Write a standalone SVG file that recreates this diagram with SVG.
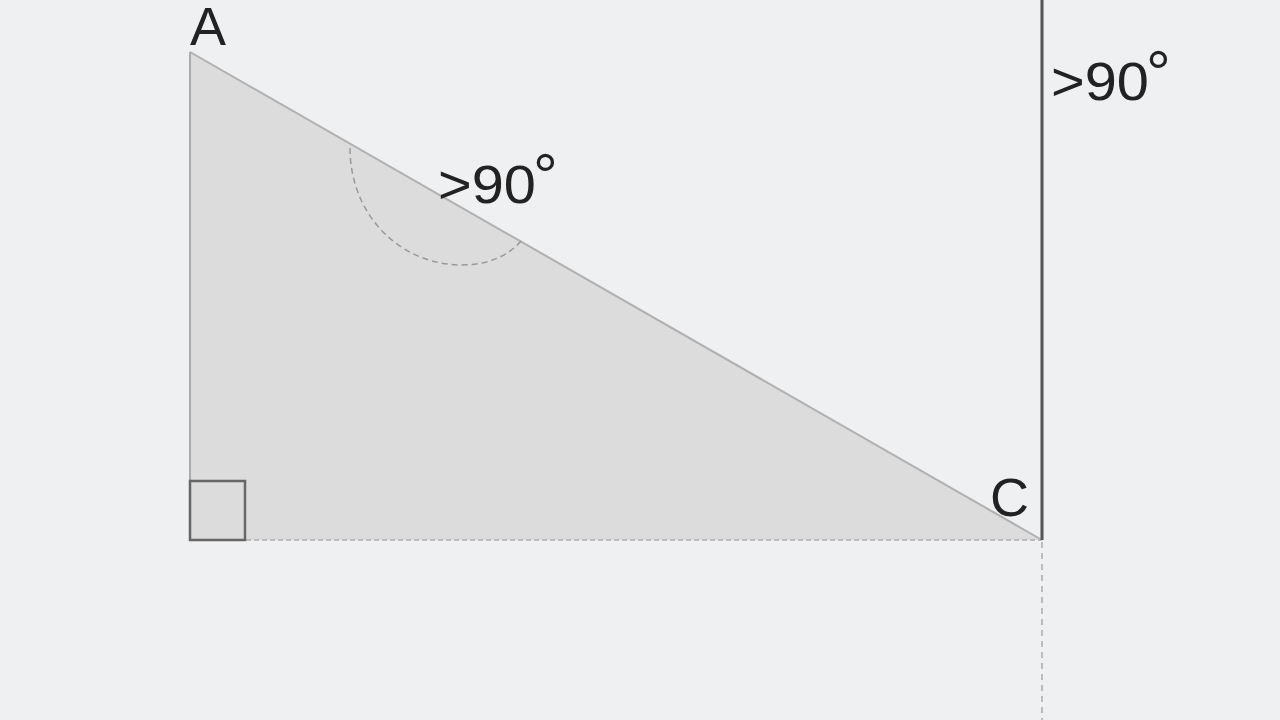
<svg xmlns="http://www.w3.org/2000/svg" width="1280" height="720" viewBox="0 0 1280 720">
<style>
.lbl{font-family:"Liberation Sans",Arial,sans-serif;font-size:54px;fill:#222;}
.deg{font-size:62px;}
</style>
<rect width="1280" height="720" fill="#eff0f2"/>
<g id="triangle">
<polygon points="190,52 190,540 1042,540" fill="#dcdcdc"/>
<line x1="190" y1="52" x2="190" y2="540" stroke="#aaaaaa" stroke-width="2"/>
<line x1="190" y1="52" x2="1042" y2="540" stroke="#b0b0b0" stroke-width="2"/>
<line x1="190" y1="540" x2="1042" y2="540" stroke="#bbbbbb" stroke-width="2" stroke-dasharray="5,3"/>
<rect x="190" y="481" width="55" height="59" fill="none" stroke="#666" stroke-width="2.5"/>
</g>
<g id="angle-arc">
<path d="M350,148 C350,215 400,265 462,265 C488,265 508,256 521,241" fill="none" stroke="#999" stroke-width="1.5" stroke-dasharray="6,4"/>
</g>
<g id="connectors">
<line x1="1042" y1="0" x2="1042" y2="540" stroke="#555" stroke-width="3"/>
<line x1="1042" y1="542" x2="1042" y2="720" stroke="#aaa" stroke-width="1.5" stroke-dasharray="6,5"/>
</g>
<g id="labels">
<text class="lbl" x="190" y="45" font-size="48">A</text>
<text class="lbl" x="990" y="516">C</text>
<text class="lbl" x="438" y="203" textLength="98" lengthAdjust="spacingAndGlyphs">&gt;90</text>
<text class="lbl deg" x="533" y="197">°</text>
<text class="lbl" x="1051" y="100" textLength="98" lengthAdjust="spacingAndGlyphs">&gt;90</text>
<text class="lbl deg" x="1146" y="94">°</text>
</g>
</svg>
